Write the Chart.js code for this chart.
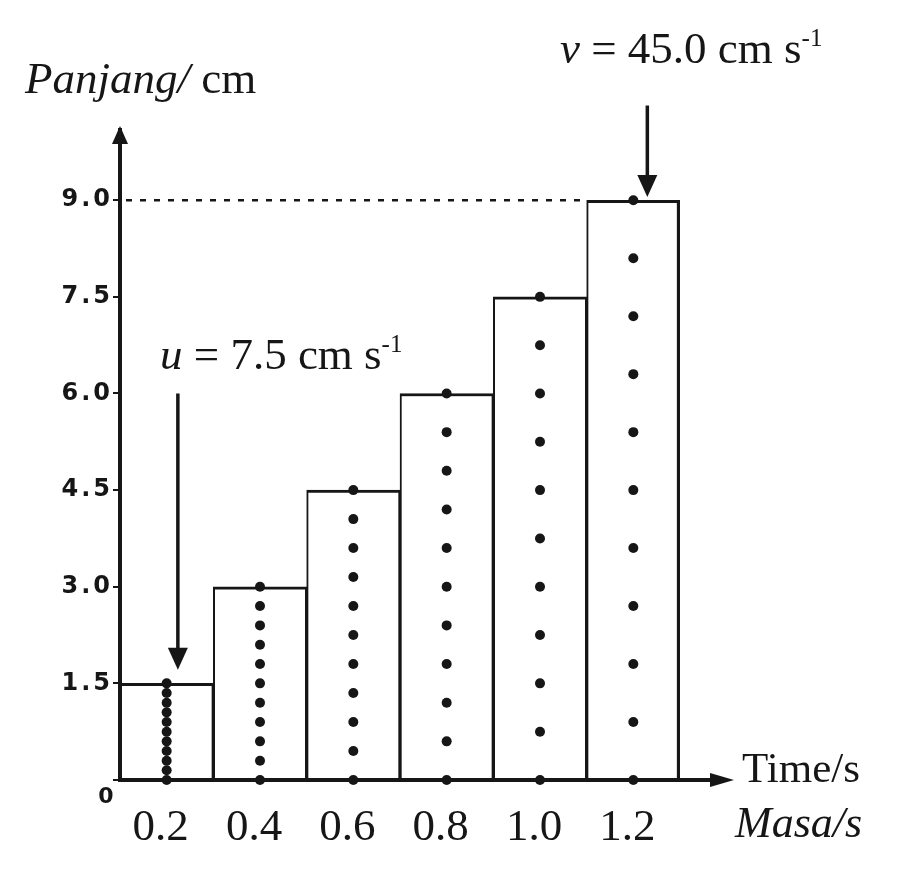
<!DOCTYPE html>
<html>
<head>
<meta charset="utf-8">
<title>Panjang vs Masa</title>
<script src="https://cdn.jsdelivr.net/npm/chart.js@4.4.0/dist/chart.umd.min.js"></script>
<style>
  html, body { margin: 0; padding: 0; background: #fff; }
  #wrap { width: 901px; height: 873px; position: relative; }
</style>
</head>
<body>
<div id="wrap"><canvas id="tape"></canvas></div>
<script>
// ticker-tape strips, 10 tick intervals each
const timeLabels = ['0.2', '0.4', '0.6', '0.8', '1.0', '1.2'];
const stripLengths = [1.5, 3.0, 4.5, 6.0, 7.5, 9.0];
const yTicks = [0, 1.5, 3.0, 4.5, 6.0, 7.5, 9.0];

const dotsStrip1 = [0, 0.15, 0.3, 0.45, 0.6, 0.75, 0.9, 1.05, 1.2, 1.35, 1.5];
const dotsStrip2 = [0, 0.3, 0.6, 0.9, 1.2, 1.5, 1.8, 2.1, 2.4, 2.7, 3.0];
const dotsStrip3 = [0, 0.45, 0.9, 1.35, 1.8, 2.25, 2.7, 3.15, 3.6, 4.05, 4.5];
const dotsStrip4 = [0, 0.6, 1.2, 1.8, 2.4, 3.0, 3.6, 4.2, 4.8, 5.4, 6.0];
const dotsStrip5 = [0, 0.75, 1.5, 2.25, 3.0, 3.75, 4.5, 5.25, 6.0, 6.75, 7.5];
const dotsStrip6 = [0, 0.9, 1.8, 2.7, 3.6, 4.5, 5.4, 6.3, 7.2, 8.1, 9.0];
const allDots = [dotsStrip1, dotsStrip2, dotsStrip3, dotsStrip4, dotsStrip5, dotsStrip6];

// arrows (strip index, shift as fraction of strip width, from / to in cm)
const uArrow = { strip: 0, shift: 0.12, from: 6.0, to: 1.71 };
const vArrow = { strip: 5, shift: 0.15, from: 10.47, to: 9.05 };

const INK = '#161616';
const SERIF = '"Liberation Serif", "DejaVu Serif", serif';

const dotSets = allDots.map((dots, i) => ({
  type: 'line',
  label: 'dots ' + timeLabels[i],
  data: dots.map((v) => ({ x: timeLabels[i], y: v })),
  showLine: false,
  pointRadius: 5,
  pointHoverRadius: 5,
  pointBackgroundColor: INK,
  pointBorderWidth: 0,
  clip: false,
  order: 1,
}));

function drawParts(ctx, parts, x, y) {
  let cx = x;
  parts.forEach((p) => {
    ctx.font = p.font;
    ctx.fillText(p.t, cx, y + (p.dy || 0));
    cx += ctx.measureText(p.t).width;
  });
}

function drawArrow(ctx, x, y1, y2) {
  const head = 22;
  ctx.beginPath();
  ctx.moveTo(x, y1);
  ctx.lineTo(x, y2 - head + 2);
  ctx.lineWidth = 3.5;
  ctx.strokeStyle = INK;
  ctx.stroke();
  ctx.beginPath();
  ctx.moveTo(x - 10, y2 - head);
  ctx.lineTo(x + 10, y2 - head);
  ctx.lineTo(x, y2);
  ctx.closePath();
  ctx.fillStyle = INK;
  ctx.fill();
}

const extras = {
  id: 'extras',
  beforeDraw(chart) {
    // slightly wider look for the y tick labels only (they draw before datasets)
    chart.ctx.letterSpacing = '3px';
  },
  beforeDatasetsDraw(chart) {
    chart.ctx.letterSpacing = '0px';
  },
  afterDraw(chart) {
    const ctx = chart.ctx;
    const area = chart.chartArea;
    const ys = chart.scales.y;
    const bars = chart.getDatasetMeta(chart.data.datasets.length - 1).data;
    ctx.save();
    ctx.letterSpacing = '0px';
    ctx.fillStyle = INK;
    ctx.strokeStyle = INK;

    // y axis arrow
    ctx.beginPath();
    ctx.moveTo(area.left, area.top - 4);
    ctx.lineTo(area.left - 8, area.top + 14);
    ctx.lineTo(area.left + 8, area.top + 14);
    ctx.closePath();
    ctx.fill();

    // x axis extension and arrow
    ctx.beginPath();
    ctx.moveTo(area.right - 2, area.bottom);
    ctx.lineTo(area.right + 40, area.bottom);
    ctx.lineWidth = 4;
    ctx.stroke();
    ctx.beginPath();
    ctx.moveTo(area.right + 54, area.bottom);
    ctx.lineTo(area.right + 30, area.bottom - 7);
    ctx.lineTo(area.right + 30, area.bottom + 7);
    ctx.closePath();
    ctx.fill();

    // dashed guide at the last strip height
    const last = bars[bars.length - 1];
    const yTop = ys.getPixelForValue(stripLengths[stripLengths.length - 1]);
    ctx.beginPath();
    ctx.setLineDash([6, 8]);
    ctx.lineWidth = 2.5;
    ctx.moveTo(area.left + 6, yTop);
    ctx.lineTo(last.x - last.width / 2, yTop);
    ctx.stroke();
    ctx.setLineDash([]);

    // arrows
    [uArrow, vArrow].forEach((a) => {
      const el = bars[a.strip];
      const x = el.x + a.shift * el.width;
      drawArrow(ctx, x, ys.getPixelForValue(a.from), ys.getPixelForValue(a.to));
    });

    // texts
    ctx.fillStyle = INK;
    ctx.textBaseline = 'alphabetic';
    ctx.textAlign = 'left';
    const it = 'italic 45px ' + SERIF;
    const rg = '45px ' + SERIF;
    const sup = '25px ' + SERIF;
    drawParts(ctx, [{ t: 'Panjang/', font: it }, { t: ' cm', font: rg }], 25, 93);
    drawParts(ctx, [{ t: 'u', font: it }, { t: ' = 7.5 cm s', font: rg }, { t: '-1', font: sup, dy: -17 }], 160, 369);
    drawParts(ctx, [{ t: 'v', font: it }, { t: ' = 45.0 cm s', font: rg }, { t: '-1', font: sup, dy: -17 }], 560, 63);
    drawParts(ctx, [{ t: 'Time/s', font: '43px ' + SERIF }], area.right + 62, 782);
    drawParts(ctx, [{ t: 'Masa/s', font: 'italic 44px ' + SERIF }], area.right + 55, 837);

    ctx.font = 'bold 22px "DejaVu Sans", sans-serif';
    ctx.textAlign = 'center';
    ctx.textBaseline = 'middle';
    ctx.fillText('0', area.left - 14, area.bottom + 17);
    ctx.restore();
  },
};

new Chart(document.getElementById('tape'), {
  type: 'bar',
  data: {
    labels: timeLabels,
    datasets: [
      ...dotSets,
      {
        type: 'bar',
        label: 'Panjang',
        data: stripLengths,
        backgroundColor: '#ffffff',
        borderColor: INK,
        borderWidth: (c) => ({
          top: 3,
          left: 2,
          right: c.dataIndex === stripLengths.length - 1 ? 3.5 : 2,
          bottom: 0,
        }),
        barPercentage: 1,
        categoryPercentage: 1,
        order: 2,
      },
    ],
  },
  options: {
    responsive: true,
    maintainAspectRatio: false,
    animation: false,
    events: [],
    layout: { padding: { top: 130, right: 221, left: 0, bottom: 0 } },
    plugins: { legend: { display: false }, tooltip: { enabled: false } },
    scales: {
      x: {
        type: 'category',
        offset: true,
        grid: { display: false, drawTicks: false },
        border: { display: true, color: INK, width: 4, z: 1 },
        ticks: {
          color: INK,
          font: { family: SERIF, size: 45 },
          padding: 21,
          labelOffset: -6,
          maxRotation: 0,
          autoSkip: false,
          z: 1,
        },
        afterFit: (scale) => { scale.height = 93; },
      },
      y: {
        min: 0,
        max: 10.09,
        afterBuildTicks: (scale) => { scale.ticks = yTicks.map((v) => ({ value: v })); },
        grid: { drawOnChartArea: false, drawTicks: true, tickLength: 7, color: INK, lineWidth: 2 },
        border: { display: true, color: INK, width: 4, z: 1 },
        ticks: {
          color: INK,
          font: { family: '"DejaVu Sans", sans-serif', size: 24, weight: 'bold' },
          padding: 0,
          callback: (v) => (v === 0 ? '' : Number(v).toFixed(1)),
        },
        afterFit: (scale) => { scale.width = 120; },
      },
    },
  },
  plugins: [extras],
});
</script>
</body>
</html>
